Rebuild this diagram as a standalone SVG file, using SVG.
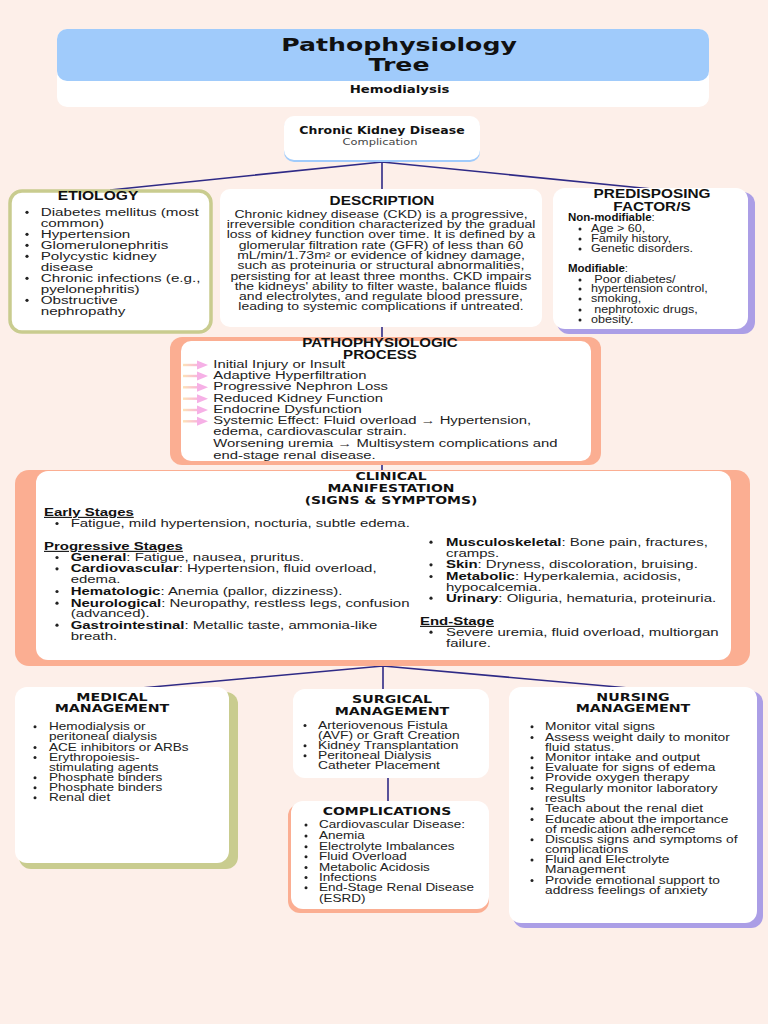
<svg xmlns="http://www.w3.org/2000/svg" width="768" height="1024" viewBox="0 0 768 1024">
<defs>
<linearGradient id="shaft" x1="0" x2="1" y1="0" y2="0">
<stop offset="0" stop-color="#fde3b6"/><stop offset="1" stop-color="#f8b3dc"/>
</linearGradient>
<g id="arr"><rect x="0" y="-1.2" width="16" height="2.4" fill="url(#shaft)"/><polygon points="14,-4.5 25,0 14,4.5" fill="#f6b0e6"/></g>
</defs>
<style>
.w{fill:#ffffff}
.con{stroke:#2f2a86;stroke-width:1.6;fill:none}
.h1{font-family:"DejaVu Sans",sans-serif;font-weight:bold;font-size:18px;fill:#111;text-anchor:middle}
.ha{font-family:"Liberation Sans",Arial,sans-serif;font-weight:bold;font-size:12px;fill:#111;text-anchor:middle}
.hm{font-family:"DejaVu Sans",sans-serif;font-weight:bold;font-size:11px;fill:#111;text-anchor:middle}
.t11{font-family:"Liberation Sans",Arial,sans-serif;font-size:11px;fill:#222}
.t10{font-family:"Liberation Sans",Arial,sans-serif;font-size:10px;fill:#222}
.td{font-family:"Liberation Sans",Arial,sans-serif;font-size:10px;fill:#222;text-anchor:middle}
.b{font-weight:bold;fill:#111}
.u{font-family:"Liberation Sans",Arial,sans-serif;font-size:11px;font-weight:bold;fill:#111;text-decoration:underline}
.dot{fill:#222}
</style>
<rect width="768" height="1024" fill="#fdefe9"/>

<g id="connectors">
<path class="con" d="M382,162 L110,190 M382,162 L382,189 M382,162 L652,189"/>
<path class="con" d="M382,327 L382,338"/>
<path class="con" d="M382,464 L382,471"/>
<path class="con" d="M383,666 L130,689 M383,666 L383,689 M383,666 L640,689"/>
<path class="con" d="M388,778 L388,801"/>
</g>

<g id="title">
<rect x="57" y="29" width="652" height="78" rx="10" class="w"/>
<rect x="57" y="29" width="652" height="52" rx="10" fill="#a0cbfb"/>
<g transform="translate(399,0) scale(1.4,1)">
<text class="h1" x="0" y="51.5">Pathophysiology</text>
<text class="h1" x="0" y="71.5">Tree</text>
</g>
<g transform="translate(399.5,0) scale(1.33,1)">
<text class="hm" x="0" y="93" style="font-size:10px">Hemodialysis</text>
</g>
</g>

<g id="ckd">
<rect x="284" y="118" width="196" height="44" rx="10" fill="#a0cbfb"/>
<rect x="284" y="116" width="196" height="44" rx="10" class="w"/>
<g transform="translate(382,0) scale(1.19,1)">
<text class="hm" x="0" y="134" style="font-size:10.5px">Chronic Kidney Disease</text>
</g>
<g transform="translate(380,0) scale(1.27,1)">
<text x="0" y="145" style="font-family:'DejaVu Sans',sans-serif;font-size:9px;fill:#444;text-anchor:middle">Complication</text>
</g>
</g>

<g id="etiology">
<rect x="10" y="191" width="201" height="141" rx="12" class="w" stroke="#c9cc8f" stroke-width="3.5"/>
<g transform="translate(98,0) scale(1.3,1)"><text class="ha" x="0" y="200">ETIOLOGY</text></g>
<circle class="dot" cx="27" cy="212.3" r="1.6"/>
<circle class="dot" cx="27" cy="234.3" r="1.6"/>
<circle class="dot" cx="27" cy="245.3" r="1.6"/>
<circle class="dot" cx="27" cy="256.3" r="1.6"/>
<circle class="dot" cx="27" cy="278.3" r="1.6"/>
<circle class="dot" cx="27" cy="300.3" r="1.6"/>
<g transform="translate(40.7,0) scale(1.385,1)">
<text class="t11" x="0" y="216">Diabetes mellitus (most</text>
<text class="t11" x="0" y="227">common)</text>
<text class="t11" x="0" y="238">Hypertension</text>
<text class="t11" x="0" y="249">Glomerulonephritis</text>
<text class="t11" x="0" y="260">Polycystic kidney</text>
<text class="t11" x="0" y="271">disease</text>
<text class="t11" x="0" y="282">Chronic infections (e.g.,</text>
<text class="t11" x="0" y="293">pyelonephritis)</text>
<text class="t11" x="0" y="304">Obstructive</text>
<text class="t11" x="0" y="315">nephropathy</text>
</g>
</g>

<g id="description">
<rect x="220" y="189" width="322" height="138" rx="10" class="w"/>
<g transform="translate(382,0) scale(1.28,1)"><text class="ha" x="0" y="205">DESCRIPTION</text></g>
<g transform="translate(381,0) scale(1.4,1)">
<text class="td" x="0" y="218">Chronic kidney disease (CKD) is a progressive,</text>
<text class="td" x="0" y="228">irreversible condition characterized by the gradual</text>
<text class="td" x="0" y="238.5">loss of kidney function over time. It is defined by a</text>
<text class="td" x="0" y="249">glomerular filtration rate (GFR) of less than 60</text>
<text class="td" x="0" y="259">mL/min/1.73m² or evidence of kidney damage,</text>
<text class="td" x="0" y="269.5">such as proteinuria or structural abnormalities,</text>
<text class="td" x="0" y="280">persisting for at least three months. CKD impairs</text>
<text class="td" x="0" y="290">the kidneys' ability to filter waste, balance fluids</text>
<text class="td" x="0" y="300">and electrolytes, and regulate blood pressure,</text>
<text class="td" x="0" y="310.5">leading to systemic complications if untreated.</text>
</g>
</g>

<g id="predisposing">
<rect x="557" y="192" width="198" height="142" rx="12" fill="#ab9ee6"/>
<rect x="553" y="188" width="195" height="141" rx="12" class="w"/>
<g transform="translate(652,0) scale(1.28,1)">
<text class="ha" x="0" y="198">PREDISPOSING</text>
<text class="ha" x="0" y="211">FACTOR/S</text>
</g>
<circle class="dot" cx="580" cy="229" r="1.5"/>
<circle class="dot" cx="580" cy="239" r="1.5"/>
<circle class="dot" cx="580" cy="249" r="1.5"/>
<circle class="dot" cx="580" cy="280" r="1.5"/>
<circle class="dot" cx="580" cy="289" r="1.5"/>
<circle class="dot" cx="580" cy="299" r="1.5"/>
<circle class="dot" cx="580" cy="310" r="1.5"/>
<circle class="dot" cx="580" cy="320" r="1.5"/>
<g transform="translate(568,0) scale(1.15,1)">
<text class="t10" x="0" y="221"><tspan class="b">Non-modifiable</tspan>:</text>
<text class="t10" x="0" y="272"><tspan class="b">Modifiable</tspan>:</text>
</g>
<g transform="translate(591,0) scale(1.26,1)">
<text class="t10" x="0" y="232">Age &gt; 60,</text>
<text class="t10" x="0" y="242">Family history,</text>
<text class="t10" x="0" y="252">Genetic disorders.</text>
<text class="t10" x="2.6" y="283">Poor diabetes/</text>
<text class="t10" x="0" y="292">hypertension control,</text>
<text class="t10" x="0" y="302">smoking,</text>
<text class="t10" x="2.6" y="313">nephrotoxic drugs,</text>
<text class="t10" x="0" y="323">obesity.</text>
</g>
</g>

<g id="pathophysiologic">
<rect x="170" y="337" width="431" height="128" rx="12" fill="#fbae92"/>
<rect x="181" y="341" width="410" height="120" rx="10" class="w"/>
<g transform="translate(380,0) scale(1.26,1)">
<text class="ha" x="0" y="347">PATHOPHYSIOLOGIC</text>
<text class="ha" x="0" y="359">PROCESS</text>
</g>
<use href="#arr" x="183" y="365"/>
<use href="#arr" x="183" y="376"/>
<use href="#arr" x="183" y="387.3"/>
<use href="#arr" x="183" y="398.7"/>
<use href="#arr" x="183" y="410"/>
<use href="#arr" x="183" y="421.3"/>
<g transform="translate(213.3,0) scale(1.35,1)">
<text class="t11" x="0" y="368">Initial Injury or Insult</text>
<text class="t11" x="0" y="379">Adaptive Hyperfiltration</text>
<text class="t11" x="0" y="390.3">Progressive Nephron Loss</text>
<text class="t11" x="0" y="401.7">Reduced Kidney Function</text>
<text class="t11" x="0" y="413">Endocrine Dysfunction</text>
<text class="t11" x="0" y="424.3">Systemic Effect: Fluid overload → Hypertension,</text>
<text class="t11" x="0" y="435.3">edema, cardiovascular strain.</text>
<text class="t11" x="0" y="447.3">Worsening uremia → Multisystem complications and</text>
<text class="t11" x="0" y="458.7">end-stage renal disease.</text>
</g>
</g>

<g id="clinical">
<rect x="15" y="470" width="735" height="196" rx="14" fill="#fbae92"/>
<rect x="36" y="471" width="695" height="189" rx="12" class="w"/>
<g transform="translate(391,0) scale(1.33,1)">
<text class="hm" x="0" y="480" style="font-size:10.5px">CLINICAL</text>
<text class="hm" x="0" y="492" style="font-size:10.5px">MANIFESTATION</text>
<text class="hm" x="0" y="504" style="font-size:10.5px">(SIGNS &amp; SYMPTOMS)</text>
</g>
<circle class="dot" cx="57" cy="523.5" r="1.6"/>
<circle class="dot" cx="57" cy="557.5" r="1.6"/>
<circle class="dot" cx="57" cy="568.8" r="1.6"/>
<circle class="dot" cx="57" cy="591.5" r="1.6"/>
<circle class="dot" cx="57" cy="603.2" r="1.6"/>
<circle class="dot" cx="57" cy="625.2" r="1.6"/>
<g transform="translate(44,0) scale(1.36,1)">
<text class="u" x="0" y="516">Early Stages</text>
<text class="t11" x="19.6" y="527">Fatigue, mild hypertension, nocturia, subtle edema.</text>
<text class="u" x="0" y="550">Progressive Stages</text>
<text class="t11" x="19.6" y="561"><tspan class="b">General</tspan>: Fatigue, nausea, pruritus.</text>
<text class="t11" x="19.6" y="572.3"><tspan class="b">Cardiovascular</tspan>: Hypertension, fluid overload,</text>
<text class="t11" x="19.6" y="583.3">edema.</text>
<text class="t11" x="19.6" y="595"><tspan class="b">Hematologic</tspan>: Anemia (pallor, dizziness).</text>
<text class="t11" x="19.6" y="606.7"><tspan class="b">Neurological</tspan>: Neuropathy, restless legs, confusion</text>
<text class="t11" x="19.6" y="617.3">(advanced).</text>
<text class="t11" x="19.6" y="628.7"><tspan class="b">Gastrointestinal</tspan>: Metallic taste, ammonia-like</text>
<text class="t11" x="19.6" y="640">breath.</text>
</g>
<circle class="dot" cx="431" cy="542.2" r="1.6"/>
<circle class="dot" cx="431" cy="564.8" r="1.6"/>
<circle class="dot" cx="431" cy="576.5" r="1.6"/>
<circle class="dot" cx="431" cy="598.2" r="1.6"/>
<circle class="dot" cx="431" cy="632.2" r="1.6"/>
<g transform="translate(420,0) scale(1.36,1)">
<text class="t11" x="19.1" y="545.7"><tspan class="b">Musculoskeletal</tspan>: Bone pain, fractures,</text>
<text class="t11" x="19.1" y="556.7">cramps.</text>
<text class="t11" x="19.1" y="568.3"><tspan class="b">Skin</tspan>: Dryness, discoloration, bruising.</text>
<text class="t11" x="19.1" y="580"><tspan class="b">Metabolic</tspan>: Hyperkalemia, acidosis,</text>
<text class="t11" x="19.1" y="590.7">hypocalcemia.</text>
<text class="t11" x="19.1" y="601.7"><tspan class="b">Urinary</tspan>: Oliguria, hematuria, proteinuria.</text>
<text class="u" x="0" y="625">End-Stage</text>
<text class="t11" x="19.1" y="635.7">Severe uremia, fluid overload, multiorgan</text>
<text class="t11" x="19.1" y="646.7">failure.</text>
</g>
</g>

<g id="medical">
<rect x="19" y="692" width="219" height="177" rx="12" fill="#c9cc8f"/>
<rect x="15" y="687" width="214" height="176" rx="12" class="w"/>
<g transform="translate(112,0) scale(1.29,1)">
<text class="hm" x="0" y="701">MEDICAL</text>
<text class="hm" x="0" y="712.5">MANAGEMENT</text>
</g>
<circle class="dot" cx="35" cy="726.8" r="1.5"/>
<circle class="dot" cx="35" cy="747.5" r="1.5"/>
<circle class="dot" cx="35" cy="757.5" r="1.5"/>
<circle class="dot" cx="35" cy="777.8" r="1.5"/>
<circle class="dot" cx="35" cy="787.8" r="1.5"/>
<circle class="dot" cx="35" cy="797.8" r="1.5"/>
<g transform="translate(49,0) scale(1.36,1)">
<text class="t10" x="0" y="730">Hemodialysis or</text>
<text class="t10" x="0" y="740">peritoneal dialysis</text>
<text class="t10" x="0" y="750.7">ACE inhibitors or ARBs</text>
<text class="t10" x="0" y="760.7">Erythropoiesis-</text>
<text class="t10" x="0" y="771">stimulating agents</text>
<text class="t10" x="0" y="781">Phosphate binders</text>
<text class="t10" x="0" y="791">Phosphate binders</text>
<text class="t10" x="0" y="801">Renal diet</text>
</g>
</g>

<g id="surgical">
<rect x="293" y="689" width="196" height="89" rx="12" class="w"/>
<g transform="translate(392,0) scale(1.29,1)">
<text class="hm" x="0" y="703">SURGICAL</text>
<text class="hm" x="0" y="715">MANAGEMENT</text>
</g>
<circle class="dot" cx="305" cy="725.5" r="1.5"/>
<circle class="dot" cx="305" cy="745.8" r="1.5"/>
<circle class="dot" cx="305" cy="755.8" r="1.5"/>
<g transform="translate(318,0) scale(1.38,1)">
<text class="t10" x="0" y="728.7">Arteriovenous Fistula</text>
<text class="t10" x="0" y="739">(AVF) or Graft Creation</text>
<text class="t10" x="0" y="749">Kidney Transplantation</text>
<text class="t10" x="0" y="759">Peritoneal Dialysis</text>
<text class="t10" x="0" y="769.3">Catheter Placement</text>
</g>
</g>

<g id="complications">
<rect x="288" y="804" width="201" height="109" rx="12" fill="#fbae92"/>
<rect x="291" y="801" width="198" height="108" rx="12" class="w"/>
<g transform="translate(387,0) scale(1.27,1)">
<text class="hm" x="0" y="815.3">COMPLICATIONS</text>
</g>
<circle class="dot" cx="306" cy="825.1" r="1.5"/>
<circle class="dot" cx="306" cy="836.1" r="1.5"/>
<circle class="dot" cx="306" cy="846.8" r="1.5"/>
<circle class="dot" cx="306" cy="856.8" r="1.5"/>
<circle class="dot" cx="306" cy="867.5" r="1.5"/>
<circle class="dot" cx="306" cy="877.5" r="1.5"/>
<circle class="dot" cx="306" cy="887.8" r="1.5"/>
<g transform="translate(319,0) scale(1.35,1)">
<text class="t10" x="0" y="828.3">Cardiovascular Disease:</text>
<text class="t10" x="0" y="839.3">Anemia</text>
<text class="t10" x="0" y="850">Electrolyte Imbalances</text>
<text class="t10" x="0" y="860">Fluid Overload</text>
<text class="t10" x="0" y="870.7">Metabolic Acidosis</text>
<text class="t10" x="0" y="880.7">Infections</text>
<text class="t10" x="0" y="891">End-Stage Renal Disease</text>
<text class="t10" x="0" y="901.7">(ESRD)</text>
</g>
</g>

<g id="nursing">
<rect x="513" y="691" width="250" height="237" rx="12" fill="#ab9ee6"/>
<rect x="509" y="687" width="248" height="236" rx="12" class="w"/>
<g transform="translate(633,0) scale(1.29,1)">
<text class="hm" x="0" y="700.7">NURSING</text>
<text class="hm" x="0" y="712.3">MANAGEMENT</text>
</g>
<circle class="dot" cx="532" cy="726.8" r="1.5"/>
<circle class="dot" cx="532" cy="737.5" r="1.5"/>
<circle class="dot" cx="532" cy="757.8" r="1.5"/>
<circle class="dot" cx="532" cy="767.8" r="1.5"/>
<circle class="dot" cx="532" cy="777.8" r="1.5"/>
<circle class="dot" cx="532" cy="788.5" r="1.5"/>
<circle class="dot" cx="532" cy="808.8" r="1.5"/>
<circle class="dot" cx="532" cy="819.5" r="1.5"/>
<circle class="dot" cx="532" cy="839.8" r="1.5"/>
<circle class="dot" cx="532" cy="860.1" r="1.5"/>
<circle class="dot" cx="532" cy="880.5" r="1.5"/>
<g transform="translate(545,0) scale(1.375,1)">
<text class="t10" x="0" y="730">Monitor vital signs</text>
<text class="t10" x="0" y="740.7">Assess weight daily to monitor</text>
<text class="t10" x="0" y="750.7">fluid status.</text>
<text class="t10" x="0" y="761">Monitor intake and output</text>
<text class="t10" x="0" y="771">Evaluate for signs of edema</text>
<text class="t10" x="0" y="781">Provide oxygen therapy</text>
<text class="t10" x="0" y="791.7">Regularly monitor laboratory</text>
<text class="t10" x="0" y="801.7">results</text>
<text class="t10" x="0" y="812">Teach about the renal diet</text>
<text class="t10" x="0" y="822.7">Educate about the importance</text>
<text class="t10" x="0" y="832.7">of medication adherence</text>
<text class="t10" x="0" y="843">Discuss signs and symptoms of</text>
<text class="t10" x="0" y="853.3">complications</text>
<text class="t10" x="0" y="863.3">Fluid and Electrolyte</text>
<text class="t10" x="0" y="873.3">Management</text>
<text class="t10" x="0" y="883.7">Provide emotional support to</text>
<text class="t10" x="0" y="894.3">address feelings of anxiety</text>
</g>
</g>
</svg>
